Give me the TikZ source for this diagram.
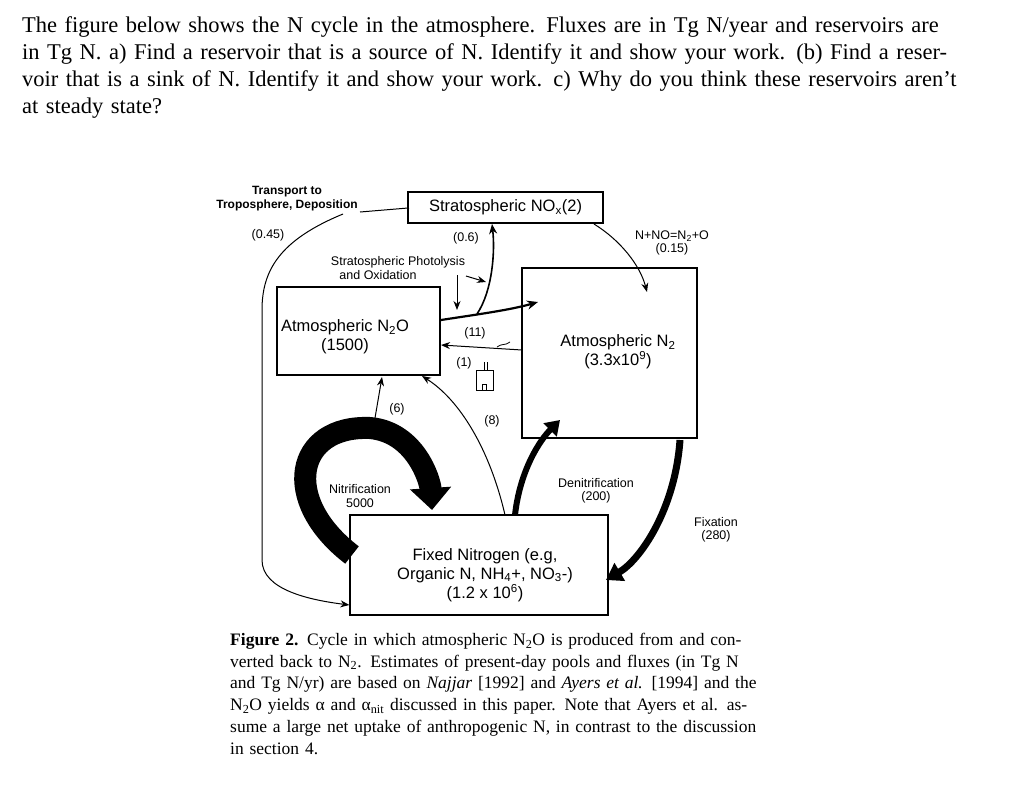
\documentclass[tikz,border=0pt]{standalone}
\usepackage{fontspec}
\setmainfont{Liberation Serif}
\newfontfamily\dg{Liberation Sans}
\usetikzlibrary{arrows.meta}
\newcommand{\sbs}[1]{\textsubscript{#1}}
\newcommand{\sps}[1]{\textsuperscript{#1}}
\begin{document}
\begin{tikzpicture}[x=1pt,y=-1pt,
  box/.style={draw,line width=1.2pt,inner sep=0pt},
  lab/.style={font=\dg\fontsize{12.5}{13.5}\selectfont,inner sep=0pt,align=center},
  blab/.style={font=\dg\fontsize{16.5}{19}\selectfont,inner sep=0pt,align=center},
  tarr/.style={line width=1pt,-{Stealth[length=9pt,width=7pt]}},
  marr/.style={line width=2.2pt,-{Stealth[length=11pt,width=9pt]}},
  txt/.style={font=\fontsize{22.5}{27}\selectfont,inner sep=0pt,anchor=north west,align=left},
  captext/.style={font=\fontsize{17.5}{21.7}\selectfont,inner sep=0pt,anchor=north west,align=left}]
\useasboundingbox (0,0) rectangle (1024,790);
\node[txt,text width=935pt] (q) at (22,16) {The figure below shows the N cycle in the atmosphere. Fluxes are in Tg N/year and reservoirs are in Tg N. a) Find a reservoir that is a source of N. Identify it and show your work. (b) Find a reservoir that is a sink of N. Identify it and show your work. c) Why do you think these reservoirs aren't at steady state?};
% boxes
\node[box,minimum width=195pt,minimum height=31pt] (nox) at (505.5,207.5) {};
\node[blab] (noxt) at (505.5,207.5) {Stratospheric NO\sbs{x}(2)};
\node[box,minimum width=163pt,minimum height=88pt] (n2o) at (358.5,331) {};
\node[blab] (n2ot) at (345,337) {Atmospheric N\sbs{2}O\\(1500)};
\node[box,minimum width=175pt,minimum height=170pt] (n2) at (609.5,353) {};
\node[blab] (n2t) at (618,352) {Atmospheric N\sbs{2}\\(3.3x10\sps{9})};
\node[box,minimum width=258pt,minimum height=100pt] (fn) at (479,565) {};
\node[blab] (fnt) at (485,575) {Fixed Nitrogen (e.g,\\Organic N, NH\sbs{4}+, NO\sbs{3}-)\\(1.2 x 10\sps{6})};
% labels
\node[lab,font=\dg\bfseries\fontsize{12}{14}\selectfont] (tr) at (287,199) {Transport to\\Troposphere, Deposition};
\node[lab] (l045) at (268,235) {(0.45)};
\node[lab] (l06) at (466,238) {(0.6)};
\node[lab] (ph) at (398,268) {Stratospheric Photolysis\\\hspace*{-40pt}and Oxidation};
\node[lab] (nno) at (672,243) {N+NO=N\sbs{2}+O\\(0.15)};
\node[lab] (l11) at (475,333) {(11)};
\node[lab] (l1) at (464,363) {(1)};
\node[lab] (l6) at (397,409) {(6)};
\node[lab] (l8) at (492,421) {(8)};
\node[lab] (nit) at (360,496) {Nitrification\\5000};
\node[lab] (den) at (596,491) {Denitrification\\(200)};
\node[lab] (fix) at (716,530) {Fixation\\(280)};
% connectors
\coordinate (tre) at (360,212);
\draw[line width=1pt] (nox.west) -- (408,208) -- (tre);
\draw[tarr] (343,214) .. controls (280,240) and (262,270) .. (262,310) -- (262,560) .. controls (262,590) and (310,600) .. (fn.west|-0,605);
% nitrification
\draw[line width=22pt,-{Triangle[length=22pt,width=40pt]}] (352,555) .. controls (280,500) and (295,425) .. (370,428) .. controls (415,432) and (430,480) .. (432,510);
\draw[tarr] (375,418) -- (382,377);
\draw[tarr] (505,515) .. controls (490,450) and (460,400) .. (422,376);
\draw[line width=6pt,-{Triangle[length=14pt,width=18pt]}] (515,515) .. controls (520,470) and (540,440) .. (560,420);
\draw[line width=7pt,-{Triangle[length=16pt,width=20pt]}] (680,440) .. controls (675,510) and (640,560) .. (606,580);
\draw[marr] (441,320) .. controls (480,314) and (510,310) .. (538,302);
\draw[line width=1.6pt,-{Stealth[length=10pt,width=8pt]}] (477,314) .. controls (493,290) and (495,250) .. (492,224);
\draw[tarr] (457,275) -- (457,310);
\draw[tarr] (466,276) -- (486,282);
\draw[tarr] (522,350) -- (441,345);
\draw[tarr] (594,224) .. controls (620,240) and (640,265) .. (647,292);
% factory
\draw[line width=1pt] (476,370) rectangle (493,390) (482,390) -- (482,384) -- (486,384) -- (486,390) (484,362) -- (484,370) (487,362) -- (487,370);
\draw[line width=0.8pt] (497,347) .. controls (502,343) and (505,346) .. (510,342);
% caption
\node[captext,text width=528pt] (capt) at (230,633) {\textbf{Figure 2.} Cycle in which atmospheric N\sbs{2}O is produced from and converted back to N\sbs{2}. Estimates of present-day pools and fluxes (in Tg N and Tg N/yr) are based on \textit{Najjar} [1992] and \textit{Ayers et al.} [1994] and the N\sbs{2}O yields α and α\sbs{nit} discussed in this paper. Note that Ayers et al. assume a large net uptake of anthropogenic N, in contrast to the discussion in section 4.};
\end{tikzpicture}
\end{document}
